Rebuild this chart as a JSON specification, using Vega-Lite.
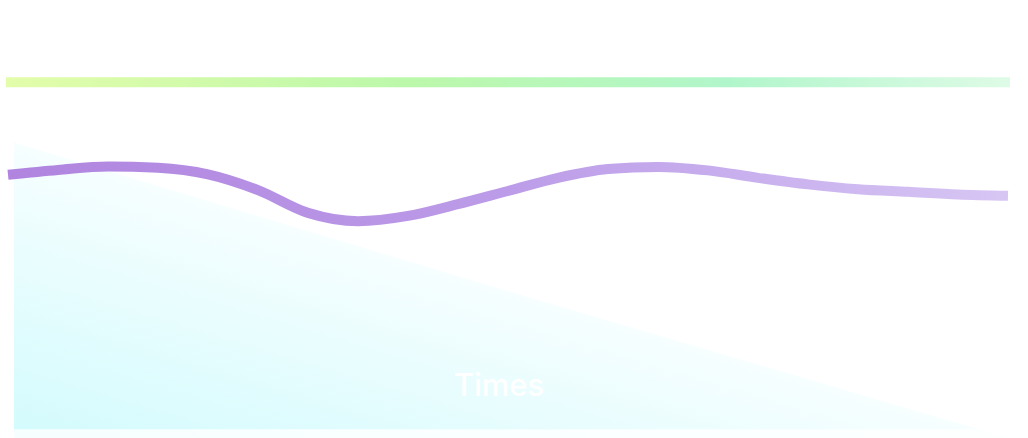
{
  "$schema": "https://vega.github.io/schema/vega-lite/v6.json",
  "width": 1028,
  "height": 438,
  "autosize": {"type": "none"},
  "padding": 0,
  "background": "white",
  "config": {"view": {"stroke": null}},
  "datasets": {
    "fill": [
      {"t": 0.06, "v": 67.4},
      {"t": 5, "v": 33.5},
      {"t": 10, "v": 0}
    ],
    "base": [{"start": 0.06, "end": 10, "low": 0, "high": 2}],
    "band": [{"start": -0.02, "end": 10.02, "low": 80.06, "high": 82.34}],
    "trend": [
      {"t": 0, "v": 60.1},
      {"t": 0.5, "v": 61.2},
      {"t": 1, "v": 62.0},
      {"t": 1.5, "v": 61.7},
      {"t": 2, "v": 60.2},
      {"t": 2.5, "v": 56.6},
      {"t": 3, "v": 51.4},
      {"t": 3.5, "v": 49.5},
      {"t": 4, "v": 50.7},
      {"t": 4.5, "v": 53.4},
      {"t": 5, "v": 56.4},
      {"t": 5.5, "v": 59.4},
      {"t": 6, "v": 61.4},
      {"t": 6.5, "v": 61.9},
      {"t": 7, "v": 61.1},
      {"t": 7.5, "v": 59.4},
      {"t": 8, "v": 57.9},
      {"t": 8.5, "v": 56.8},
      {"t": 9, "v": 56.2},
      {"t": 9.5, "v": 55.6},
      {"t": 10, "v": 55.3}
    ],
    "label": [{"t": 4.91, "v": 9.6, "text": "Times"}]
  },
  "layer": [
    {
      "data": {"name": "fill"},
      "mark": {
        "type": "area",
        "interpolate": "linear",
        "fill": {
          "gradient": "linear",
          "x1": 0, "y1": 1, "x2": 1, "y2": 0,
          "stops": [
            {"offset": 0, "color": "#d3fbfd"},
            {"offset": 0.62, "color": "#ffffff"},
            {"offset": 1, "color": "#ffffff"}
          ]
        }
      },
      "encoding": {
        "x": {"field": "t", "type": "quantitative", "axis": null, "scale": {"domain": [-0.08, 10.2], "nice": false, "zero": false}},
        "y": {"field": "v", "type": "quantitative", "axis": null, "scale": {"domain": [0, 100], "nice": false}}
      }
    },
    {
      "data": {"name": "base"},
      "mark": {"type": "rect", "fill": "#ffffff", "opacity": 0.8},
      "encoding": {
        "x": {"field": "start", "type": "quantitative", "axis": null},
        "x2": {"field": "end"},
        "y": {"field": "low", "type": "quantitative", "axis": null},
        "y2": {"field": "high"}
      }
    },
    {
      "data": {"name": "band"},
      "mark": {
        "type": "rect",
        "fill": {
          "gradient": "linear",
          "x1": 0, "y1": 0, "x2": 1, "y2": 0,
          "stops": [
            {"offset": 0, "color": "#e3fdaa"},
            {"offset": 0.4, "color": "#bcf8aa"},
            {"offset": 0.72, "color": "#b1f6cb"},
            {"offset": 1, "color": "#defbe6"}
          ]
        }
      },
      "encoding": {
        "x": {"field": "start", "type": "quantitative", "axis": null},
        "x2": {"field": "end"},
        "y": {"field": "low", "type": "quantitative", "axis": null},
        "y2": {"field": "high"}
      }
    },
    {
      "data": {"name": "trend"},
      "mark": {
        "type": "line",
        "interpolate": "monotone",
        "strokeWidth": 10,
        "strokeCap": "butt",
        "stroke": {
          "gradient": "linear",
          "x1": 0, "y1": 0, "x2": 1, "y2": 0,
          "stops": [
            {"offset": 0, "color": "#b084df"},
            {"offset": 0.5, "color": "#bc9ce8"},
            {"offset": 1, "color": "#d7c6f4"}
          ]
        }
      },
      "encoding": {
        "x": {"field": "t", "type": "quantitative", "axis": null},
        "y": {"field": "v", "type": "quantitative", "axis": null}
      }
    },
    {
      "data": {"name": "label"},
      "mark": {"type": "text", "font": "Inter", "fontSize": 31, "fontWeight": 500, "color": "#ffffff", "align": "center", "baseline": "alphabetic"},
      "encoding": {
        "x": {"field": "t", "type": "quantitative", "axis": null},
        "y": {"field": "v", "type": "quantitative", "axis": null},
        "text": {"field": "text"}
      }
    }
  ]
}
